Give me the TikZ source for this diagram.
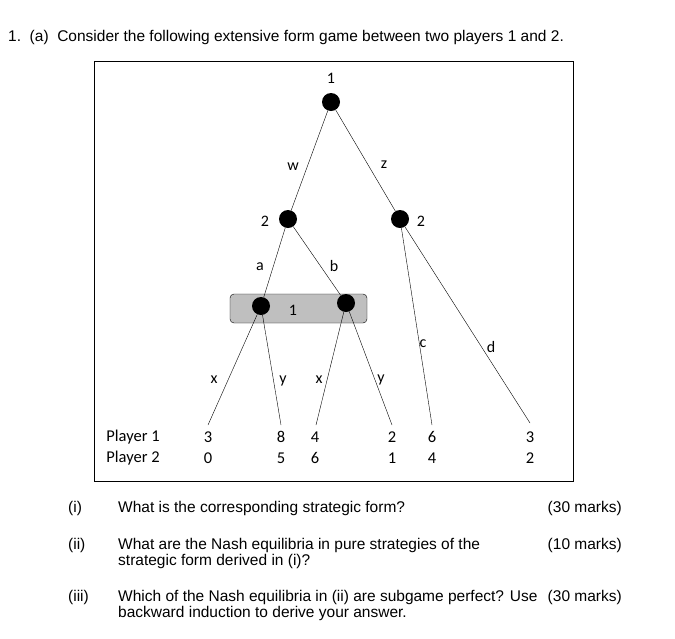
\documentclass[tikz,border=0pt]{standalone}
\usepackage{fontspec}
\setmainfont{Liberation Sans}
\newfontfamily\treefont{Carlito}
\begin{document}
\begin{tikzpicture}[x=1pt,y=-1pt,
  dec/.style={circle, fill=black, inner sep=0pt, minimum size=18pt},
  lbl/.style={font=\treefont\fontsize{16}{18}\selectfont, inner sep=1pt},
  pay/.style={font=\treefont\fontsize{16.5}{18}\selectfont},
  qtxt/.style={font=\fontsize{15.5}{16}\selectfont, anchor=north west, align=left, inner sep=0pt}]
\useasboundingbox (0,0) rectangle (675,638);
\node[font=\fontsize{15.5}{16}\selectfont, anchor=west, inner sep=0pt] (head) at (8,37) {1.\ \ (a)\ \ Consider the following extensive form game between two players 1 and 2.};
\draw[black] (94,61) rectangle (573,481);
\draw[black, fill=lightgray, rounded corners=4pt] (230,294) rectangle (367,323);
\node[dec] (r) at (331,102) {};
\node[dec] (l2) at (288,219) {};
\node[dec] (r2) at (400,219) {};
\node[dec] (la) at (261,306) {};
\node[dec] (lb) at (346,303) {};
\coordinate (t1) at (208,425);
\coordinate (t2) at (281,425);
\coordinate (t3) at (316,425);
\coordinate (t4) at (392,425);
\coordinate (t5) at (432,425);
\coordinate (t6) at (530,423);
\draw (r) -- (l2); \draw (r) -- (r2);
\draw (l2) -- (la); \draw (l2) -- (lb);
\draw (la) -- (t1); \draw (la) -- (t2);
\draw (lb) -- (t3); \draw (lb) -- (t4);
\draw (r2) -- (t5); \draw (r2) -- (t6);
\node[lbl] (p1) at (331,78) {1};
\node[lbl] (p2l) at (265,221) {2};
\node[lbl] (p2r) at (421,221) {2};
\node[lbl] (p1i) at (293,310) {1};
\node[lbl] (ew) at (293,167) {w};
\node[lbl] (ez) at (384,165) {z};
\node[lbl] (ea) at (260,267) {a};
\node[lbl] (eb) at (334,266) {b};
\node[lbl] (ec) at (423,344) {c};
\node[lbl] (ed) at (491,347) {d};
\node[lbl] (ex1) at (214,380) {x};
\node[lbl] (ey1) at (283,381) {y};
\node[lbl] (ex2) at (319,380) {x};
\node[lbl] (ey2) at (381,380) {y};
\node[pay] (pl1) at (133,437) {Player 1};
\node[pay] (pl2) at (133,458) {Player 2};
\foreach \x/\a/\b in {208/3/0, 281/8/5, 315/4/6, 392/2/1, 432/6/4, 530/3/2}{
  \node[pay] at (\x,437) {\a};
  \node[pay] at (\x,458) {\b};
}
\node[qtxt] (q1) at (68,501) {(i)};
\node[qtxt] (q1t) at (118,501) {What is the corresponding strategic form?};
\node[qtxt, anchor=north east] (q1m) at (622,501) {(30 marks)};
\node[qtxt] (q2) at (68,538) {(ii)};
\node[qtxt] (q2t) at (118,538) {What are the Nash equilibria in pure strategies of the\\strategic form derived in (i)?};
\node[qtxt, anchor=north east] (q2m) at (622,538) {(10 marks)};
\node[qtxt] (q3) at (68,590) {(iii)};
\node[qtxt] (q3t) at (118,590) {Which of the Nash equilibria in (ii) are subgame perfect? Use\\backward induction to derive your answer.};
\node[qtxt, anchor=north east] (q3m) at (622,590) {(30 marks)};
\end{tikzpicture}
\end{document}
